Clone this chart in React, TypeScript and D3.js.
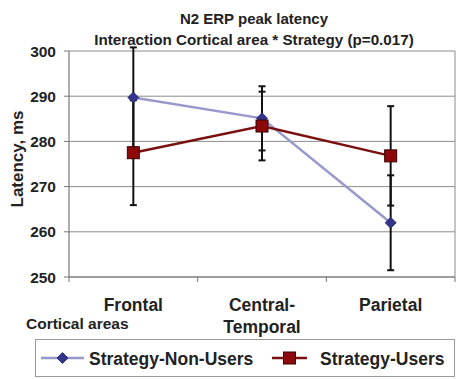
import React from "react";
import * as d3 from "d3";

const categories = ["Frontal", "Central-Temporal", "Parietal"];
const categoryLines = [["Frontal"], ["Central-", "Temporal"], ["Parietal"]];
const nonUsers = [289.7, 285.1, 262.0];
const nonUsersErr = [11.1, 7.1, 10.5];
const users = [277.5, 283.4, 276.8];
const usersErr = [11.6, 7.6, 11.0];
const yTicks = [250, 260, 270, 280, 290, 300];
const seriesNames = ["Strategy-Non-Users", "Strategy-Users"];

const W = 474, H = 379;
const M = { left: 69, right: 455, top: 51, bottom: 277 };
const FONT = "'Liberation Sans', Arial, sans-serif";
const C_NON_LINE = "#9898cc";
const C_NON_MARK = "#34348c";
const C_USER_LINE = "#7a1010";
const C_USER_MARK = "#8e0a0a";
const TXT = "#222";

export default function App() {
  const x = d3.scaleBand().domain(categories).range([M.left, M.right]);
  const y = d3.scaleLinear().domain([250, 300]).range([M.bottom, M.top]);
  const cx = (i: number) => (x(categories[i]) as number) + x.bandwidth() / 2;
  const line = d3.line<number>().x((_, i) => cx(i)).y((d) => y(d));

  const errBars = (vals: number[], errs: number[], key: string) =>
    vals.map((v, i) => {
      const xx = cx(i);
      const y1 = y(v + errs[i]);
      const y2 = y(v - errs[i]);
      return (
        <g key={key + i} stroke="#111" strokeWidth={2}>
          <line x1={xx} x2={xx} y1={y1} y2={y2} />
          <line x1={xx - 3.5} x2={xx + 3.5} y1={y1} y2={y1} />
          <line x1={xx - 3.5} x2={xx + 3.5} y1={y2} y2={y2} />
        </g>
      );
    });

  const diamond = (px: number, py: number, k: string, s = 5.5) => (
    <path
      key={k}
      d={`M${px},${py - s}L${px + s},${py}L${px},${py + s}L${px - s},${py}Z`}
      fill={C_NON_MARK}
      stroke="#222266"
      strokeWidth={0.8}
    />
  );
  const square = (px: number, py: number, k: string, s = 6) => (
    <rect
      key={k}
      x={px - s}
      y={py - s}
      width={2 * s}
      height={2 * s}
      fill={C_USER_MARK}
      stroke="#3a0000"
      strokeWidth={1}
    />
  );

  const bandEdges = [M.left, ...categories.map((c) => (x(c) as number) + x.bandwidth())];

  return (
    <svg width={W} height={H} style={{ position: "absolute", left: 0, top: 0, background: "#fff" }} fontFamily={FONT}>
      <rect x={0} y={0} width={W} height={H} fill="#fff" />
      {/* titles */}
      <text x={254} y={24} textAnchor="middle" fontSize={15} fontWeight="bold" fill={TXT}>
        N2 ERP peak latency
      </text>
      <text x={254} y={45} textAnchor="middle" fontSize={15.2} fontWeight="bold" fill={TXT}>
        Interaction Cortical area * Strategy (p=0.017)
      </text>

      {/* gridlines */}
      {yTicks.map((t) => (
        <line key={"g" + t} x1={M.left} x2={M.right} y1={y(t)} y2={y(t)} stroke="#8c8c8c" strokeWidth={1} />
      ))}
      <line x1={M.right} x2={M.right} y1={M.top} y2={M.bottom} stroke="#8c8c8c" strokeWidth={1} />
      {/* y axis */}
      <line x1={M.left} x2={M.left} y1={M.top} y2={M.bottom} stroke="#777" strokeWidth={1.2} />
      {yTicks.map((t) => (
        <g key={"t" + t}>
          <line x1={M.left - 5} x2={M.left} y1={y(t)} y2={y(t)} stroke="#777" strokeWidth={1} />
          <text x={56} y={y(t) + 5.5} textAnchor="end" fontSize={15.5} fontWeight="bold" fill={TXT}>
            {t}
          </text>
        </g>
      ))}
      {/* x axis */}
      <line x1={M.left} x2={M.right} y1={M.bottom} y2={M.bottom} stroke="#777" strokeWidth={1.2} />
      {bandEdges.map((e, i) => (
        <line key={"xt" + i} x1={e} x2={e} y1={M.bottom} y2={M.bottom + 5} stroke="#777" strokeWidth={1} />
      ))}
      {categoryLines.map((lines, i) =>
        lines.map((l, j) => (
          <text key={"xl" + i + j} x={cx(i)} y={311 + j * 22} textAnchor="middle" fontSize={17.5} fontWeight="bold" fill={TXT}>
            {l}
          </text>
        ))
      )}
      <text x={26} y={329} fontSize={15.5} fontWeight="bold" fill={TXT}>
        Cortical areas
      </text>
      <text
        transform={`translate(23,${159}) rotate(-90)`}
        textAnchor="middle"
        fontSize={17}
        fontWeight="bold"
        fill={TXT}
      >
        Latency, ms
      </text>

      {/* series */}
      <path d={line(nonUsers) as string} fill="none" stroke={C_NON_LINE} strokeWidth={2.5} />
      <path d={line(users) as string} fill="none" stroke={C_USER_LINE} strokeWidth={2.5} />
      {errBars(nonUsers, nonUsersErr, "ne")}
      {errBars(users, usersErr, "ue")}
      {nonUsers.map((v, i) => diamond(cx(i), y(v), "nd" + i))}
      {users.map((v, i) => square(cx(i), y(v), "us" + i))}

      {/* legend */}
      <rect x={35.5} y={339.5} width={419} height={37} fill="#fff" stroke="#999" strokeWidth={1} />
      <line x1={41} x2={84} y1={358} y2={358} stroke={C_NON_LINE} strokeWidth={2.5} />
      {diamond(62.5, 358, "ld", 5.5)}
      <text x={89} y={364.5} fontSize={17.5} fontWeight="bold" fill={TXT}>
        {seriesNames[0]}
      </text>
      <line x1={272} x2={307} y1={358} y2={358} stroke={C_USER_LINE} strokeWidth={2.5} />
      {square(289.5, 358, "ls", 6)}
      <text x={320} y={364.5} fontSize={17.5} fontWeight="bold" fill={TXT}>
        {seriesNames[1]}
      </text>
    </svg>
  );
}
